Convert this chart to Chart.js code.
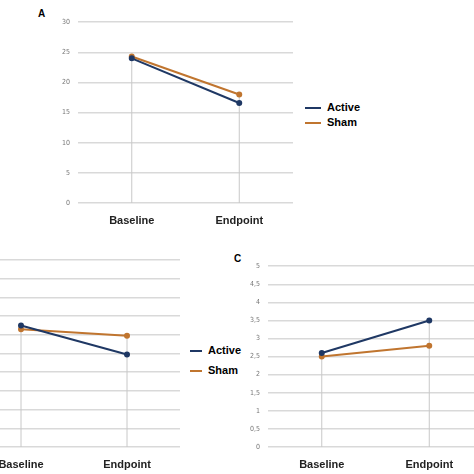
<!DOCTYPE html>
<html>
<head>
<meta charset="utf-8">
<script src="https://cdn.jsdelivr.net/npm/chart.js@4"></script>
<style>
  body { margin: 0; width: 474px; height: 474px; overflow: hidden; background: #fff; position: relative; font-family: "Liberation Sans", Arial, sans-serif; }
  .box { position: absolute; }
  .tag { position: absolute; font-weight: bold; font-size: 10px; }
  .leg { position: absolute; font-weight: bold; font-size: 11px; line-height: 15px; }
  .leg span.sw { display: inline-block; width: 16px; height: 2px; vertical-align: middle; margin-right: 6px; }
</style>
</head>
<body>
<div class="box" style="left:58px;top:10px;width:241px;height:218px"><canvas id="chartA"></canvas></div>
<div class="box" style="left:-38px;top:254px;width:224px;height:218px"><canvas id="chartB"></canvas></div>
<div class="box" style="left:248px;top:254px;width:241px;height:218px"><canvas id="chartC"></canvas></div>
<div class="tag" style="left:38px;top:8px">A</div>
<div class="tag" style="left:234px;top:253px">C</div>
<div class="leg" style="left:305px;top:100px">
  <div><span class="sw" style="background:#1f3864"></span>Active</div>
  <div><span class="sw" style="background:#c0752f"></span>Sham</div>
</div>
<div class="leg" style="left:190px;top:340px;line-height:20px">
  <div><span class="sw" style="background:#1f3864;width:12px"></span>Active</div>
  <div><span class="sw" style="background:#c0752f;width:12px"></span>Sham</div>
</div>
<script>
const categories = ["Baseline", "Endpoint"];
const activeA = [24.0, 16.6];
const shamA = [24.3, 18.0];
const activeB = [6.5, 4.95];
const shamB = [6.3, 5.95];
const activeC = [2.6, 3.5];
const shamC = [2.5, 2.8];

const navy = "#1f3864";
const orange = "#c0752f";

// draws the grey drop line from the highest point of each category to the axis
const dropLines = {
  id: "dropLines",
  beforeDatasetsDraw(chart) {
    const { ctx, scales: { x, y } } = chart;
    ctx.save();
    ctx.strokeStyle = "#c8c8c8";
    ctx.lineWidth = 1;
    categories.forEach((c, i) => {
      const top = Math.max(...chart.data.datasets.map(d => d.data[i]));
      const px = x.getPixelForValue(i);
      ctx.beginPath();
      ctx.moveTo(px, y.getPixelForValue(top));
      ctx.lineTo(px, y.bottom);
      ctx.stroke();
    });
    ctx.restore();
  }
};

const makeChart = (id, active, sham, max, step, showTicks) => {
  new Chart(document.getElementById(id), {
    type: "line",
    data: {
      labels: categories,
      datasets: [
        { label: "Active", data: active, borderColor: navy, backgroundColor: navy, borderWidth: 2, pointRadius: 2 },
        { label: "Sham", data: sham, borderColor: orange, backgroundColor: orange, borderWidth: 2, pointRadius: 2 }
      ]
    },
    options: {
      responsive: true,
      maintainAspectRatio: false,
      animation: false,
      layout: { padding: { top: 5, left: 0, right: 0, bottom: 0 } },
      plugins: { legend: { display: false }, tooltip: { enabled: false } },
      scales: {
        x: {
          offset: true,
          grid: { display: false },
          border: { display: false },
          ticks: { color: "#222", font: { family: "Liberation Sans", weight: "bold", size: 11 }, maxRotation: 0, autoSkip: false },
          afterFit: s => { s.height = 25; }
        },
        y: {
          min: 0, max: max,
          grid: { color: "#d9d9d9", lineWidth: 1.5, drawTicks: false },
          border: { display: false },
          ticks: {
            display: showTicks, stepSize: step, padding: 8,
            color: "#777", font: { family: "DejaVu Sans Condensed", size: 7 },
            callback: v => String(v).replace(".", ",")
          },
          afterFit: s => { s.width = showTicks ? 20 : 0; }
        }
      }
    },
    plugins: [dropLines]
  });
};

makeChart("chartA", activeA, shamA, 30, 5, true);
makeChart("chartB", activeB, shamB, 10, 1, false);
makeChart("chartC", activeC, shamC, 5, 0.5, true);
</script>
</body>
</html>
